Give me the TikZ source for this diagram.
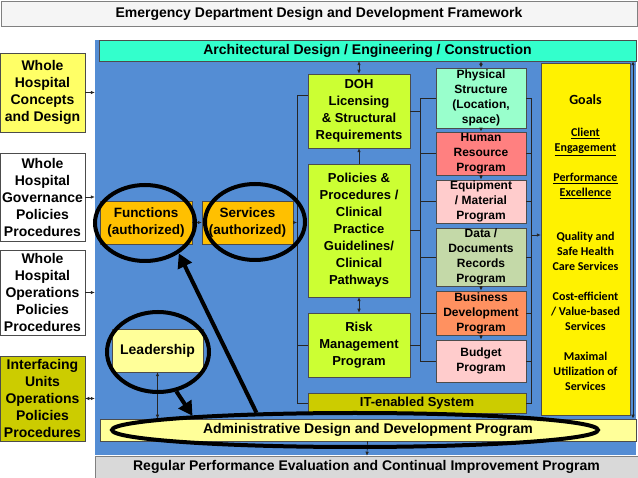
\documentclass[tikz,border=0pt]{standalone}
\usepackage{fontspec}
\setmainfont{Liberation Sans}
\newfontfamily\goalfont{Carlito}
\usetikzlibrary{shapes.geometric,arrows.meta}

\definecolor{panelblue}{RGB}{84,141,212}
\definecolor{archcyan}{RGB}{51,255,204}
\definecolor{hospyellow}{RGB}{255,255,102}
\definecolor{olive}{RGB}{204,204,0}
\definecolor{authorange}{RGB}{255,192,0}
\definecolor{paleyellow}{RGB}{255,255,153}
\definecolor{lime}{RGB}{204,255,51}
\definecolor{mint}{RGB}{153,255,204}
\definecolor{salmon}{RGB}{255,128,128}
\definecolor{pink}{RGB}{255,204,204}
\definecolor{sage}{RGB}{196,217,168}
\definecolor{tangerine}{RGB}{255,145,96}

\begin{document}
\begin{tikzpicture}[x=1pt,y=-1pt,
    box/.style={draw=gray!60!black, line width=0.5pt, align=center, inner sep=0pt,
                text=black, font=\bfseries\fontsize{14}{17}\selectfont},
    mid/.style={box, minimum width=102, fill=lime, font=\bfseries\fontsize{13}{17}\selectfont},
    prog/.style={box, minimum width=90, font=\bfseries\fontsize{12}{15}\selectfont},
    side/.style={box, minimum width=85},
    ring/.style={ellipse, draw=black, line width=4pt, inner sep=0pt},
    link/.style={line width=0.6pt, black!85},
    tip/.style={link, -{Latex[length=4pt,width=3.5pt]}},
    both/.style={link, {Latex[length=4pt,width=3.5pt]}-{Latex[length=4pt,width=3.5pt]}},
    fat/.style={line width=4pt, -{Triangle[length=14pt,width=15pt]}}
]
\useasboundingbox (0,0) rectangle (638,478);

% frame bars
\node[box, fill=gray!8, draw=gray, minimum width=636, minimum height=25] (title) at (319,13.5)
    {Emergency Department Design and Development Framework};
\node[fill=panelblue, minimum width=541, minimum height=415, inner sep=0pt] (panel) at (365.5,247.5) {};
\node[box, fill=archcyan, minimum width=537, minimum height=21] (arch) at (367.5,50.5)
    {Architectural Design / Engineering / Construction};
\node[box, fill=gray!30, draw=gray, minimum width=543, minimum height=22] (bottom) at (366.5,467)
    {Regular Performance Evaluation and Continual Improvement Program};
\node[box, fill=paleyellow, minimum width=536, minimum height=22] (admin) at (368,430)
    {Administrative Design and Development Program};

% whole hospital inputs
\node[side, fill=hospyellow, minimum height=79] (whole1) at (42.5,92.5) {Whole\\Hospital\\Concepts\\and Design};
\node[side, fill=white, minimum height=88] (whole2) at (42.5,197) {Whole\\Hospital\\Governance\\Policies\\Procedures};
\node[side, fill=white, minimum height=85] (whole3) at (42.5,292.5) {Whole\\Hospital\\Operations\\Policies\\Procedures};
\node[side, fill=olive, minimum height=85] (interf) at (42.5,398.5) {Interfacing\\Units\\Operations\\Policies\\Procedures};

% functions, services, leadership
\node[box, fill=authorange, minimum width=92, minimum height=43, font=\bfseries\fontsize{13.5}{17}\selectfont] (func) at (146,222.5) {Functions\\(authorized)};
\node[box, fill=authorange, minimum width=91, minimum height=43, font=\bfseries\fontsize{13.5}{17}\selectfont] (serv) at (247.5,222.5) {Services\\(authorized)};
\node[box, fill=paleyellow, minimum width=91, minimum height=43] (lead) at (157.5,350.5) {Leadership};

% middle column
\node[mid, minimum height=74] (doh) at (359,111) {DOH\\Licensing\\\& Structural\\Requirements};
\node[mid, minimum height=133] (pol) at (359,230.5) {Policies \&\\Procedures /\\Clinical\\Practice\\Guidelines/\\Clinical\\Pathways};
\node[mid, minimum height=64] (risk) at (359,345) {Risk\\Management\\Program};
\node[mid, fill=olive, minimum width=218, minimum height=20] (it) at (417,403) {IT-enabled System};

% programs
\node[prog, fill=mint, minimum height=60] (phys) at (481,98) {Physical\\Structure\\(Location,\\space)};
\node[prog, fill=salmon, minimum height=43] (hr) at (481,153.5) {Human\\Resource\\Program};
\node[prog, fill=pink, minimum height=43] (equip) at (481,201.5) {Equipment\\/ Material\\Program};
\node[prog, fill=sage, minimum height=58] (data) at (481,257) {Data /\\Documents\\Records\\Program};
\node[prog, fill=tangerine, minimum height=44] (bus) at (481,313) {Business\\Development\\Program};
\node[prog, fill=pink, minimum height=42] (budget) at (481,361) {Budget\\Program};

% goals
\node[box, fill=yellow, minimum width=89, minimum height=352, font=\goalfont\bfseries\fontsize{12}{15}\selectfont] (goals) at (585.5,239)
    {\rule{0pt}{17pt}{\fontsize{14}{15}\selectfont Goals}\\[17pt]
     \underline{Client}\\ \underline{Engagement}\\[15pt]
     \underline{Performance}\\ \underline{Excellence}\\[29pt]
     Quality and\\ Safe Health\\ Care Services\\[15pt]
     Cost-efficient\\ / Value-based\\ Services\\[15pt]
     Maximal\\ Utilization  of\\ Services};

% inputs into the panel
\foreach \n in {whole1,whole2,whole3}
    \draw[tip] (\n.east) -- (\n.east -| panel.west);
\draw[both] (interf.east) -- (interf.east -| panel.west);

\draw[tip] (func) -- (serv);

% left bracket
\coordinate (lb) at (297,0);
\draw[link] (doh.west |- 0,95) -- (lb |- 0,95) -- (lb |- it.west) -- (it.west);
\draw[link] (risk.west) -- (lb |- risk.west);
\draw[tip] (serv.east) -- (lb |- serv.east);

\draw[both] (doh.north |- arch.south) -- (doh.north);
\draw[tip] (pol) -- (doh);
\draw[both] (pol) -- (risk);

% bracket between middle column and programs
\coordinate (mb) at (420,0);
\draw[link] (phys.west) -| (mb |- budget.west) -- (budget.west);
\foreach \n in {hr,equip,data,bus}
    \draw[link] (\n.west) -- (mb |- \n.west);
\foreach \n in {doh,pol,risk}
    \draw[link] (\n.east) -- (mb |- \n.east);

\draw[both] (phys.north |- arch.south) -- (phys.north);
\draw[tip, line width=1.2pt] (phys) -- (hr);
\draw[tip, line width=1.2pt] (hr) -- (equip);
\draw[tip, line width=1.2pt] (data) -- (bus);
\draw[tip, line width=1.2pt] (bus) -- (budget);

% bracket into goals
\coordinate (rb) at (531,0);
\draw[link] (phys.east) -| (rb |- it.east) -- (it.east);
\foreach \n in {hr,equip,data,bus,budget}
    \draw[link] (\n.east) -- (rb |- \n.east);
\draw[tip] (rb |- 0,235) -- (goals.west |- 0,235);

\coordinate (re) at (633,0);
\draw[both, line width=1pt] (re |- arch.south) -- (re |- admin.north);

\draw[both] (lead) -- (lead.south |- admin.north);
\draw[tip] (admin) -- (bottom);

% highlight rings
\node[ring, minimum width=100, minimum height=76] (funcring) at (145,223) {};
\node[ring, minimum width=100, minimum height=76] (servring) at (255,222) {};
\node[ring, minimum width=102, minimum height=80] (leadring) at (158,352) {};
\node[ring, minimum width=486, minimum height=34] (adminring) at (355,430) {};

\draw[fat] (adminring.170) -- (funcring.-42);
\draw[fat] (leadring.-65) -- (adminring.175);

\end{tikzpicture}
\end{document}
